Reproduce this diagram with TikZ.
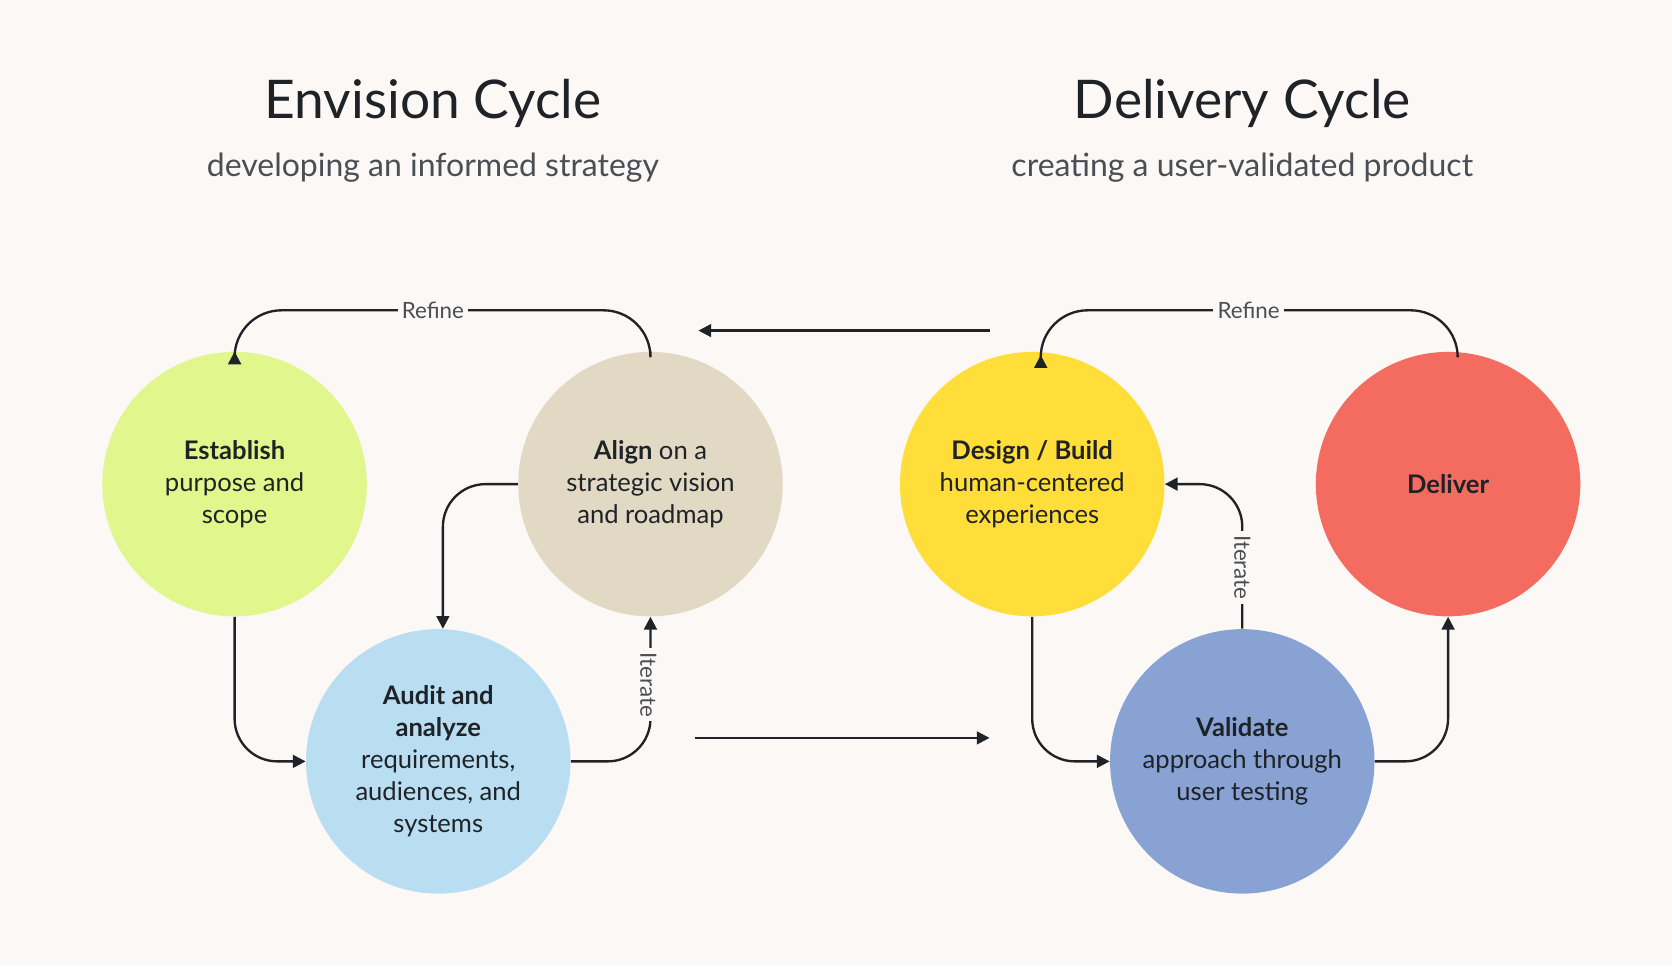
\documentclass[tikz,border=0pt]{standalone}
\usepackage{fontspec}
\setmainfont{Lato}
\usetikzlibrary{arrows.meta}
\definecolor{bg}{HTML}{FCF8F5}
\definecolor{ink}{HTML}{1F2328}
\definecolor{sub}{HTML}{4A4F55}
\definecolor{cA}{HTML}{E1F68C}
\definecolor{cB}{HTML}{E2D9C4}
\definecolor{cC}{HTML}{B9DDF1}
\definecolor{cD}{HTML}{FFDE3A}
\definecolor{cE}{HTML}{F46B5F}
\definecolor{cF}{HTML}{87A2D3}
\begin{document}
\begin{tikzpicture}[x=0.5pt,y=-0.5pt,
  circ/.style={circle,minimum size=124pt,inner sep=0pt,align=center,text=ink,font=\fontsize{12}{15}\selectfont},
  conn/.style={draw=ink,line width=1.1pt,rounded corners=20pt,-{Triangle[length=6pt,width=6pt]}},
  lab/.style={fill=bg,text=sub,font=\fontsize{10.5}{12}\selectfont,inner sep=2pt},
  title/.style={text=ink,font=\fontsize{25}{30}\selectfont},
  subt/.style={text=sub,font=\fontsize{15}{18}\selectfont}]
\fill[bg] (0,0) rectangle (1568,906);
\useasboundingbox (0,0) rectangle (1568,906);
\node[title] (t1) at (406,97) {Envision Cycle};
\node[subt] (s1) at (406,157) {developing an informed strategy};
\node[title] (t2) at (1165,97) {Delivery Cycle};
\node[subt] (s2) at (1165,157) {creating a user-validated product};
\node[circ,fill=cA] (est) at (220,454) {\textbf{Establish}\\purpose and\\scope};
\node[circ,fill=cB] (ali) at (610,454) {\textbf{Align} on a\\strategic vision\\and roadmap};
\node[circ,fill=cC] (aud) at (411,714) {\textbf{Audit and}\\\textbf{analyze}\\requirements,\\audiences, and\\systems};
\node[circ,fill=cD] (des) at (968,454) {\textbf{Design / Build}\\human-centered\\experiences};
\node[circ,fill=cE] (del) at (1358,454) {\textbf{Deliver}};
\node[circ,fill=cF] (val) at (1165,714) {\textbf{Validate}\\approach through\\user testing};
% envision
\draw[conn,rounded corners=22pt] (ali.north) -- (610,291) -- (220,291) -- (est.north);
\node[lab] (r1) at (406,291) {Refine};
\draw[conn] (est.south) |- (aud.west);
\draw[conn] (ali.west) -| (aud.88);
\draw[conn] (aud.east) -| (ali.south);
\node[lab,rotate=-90] (i1) at (608,642) {Iterate};
% middle
\coordinate (m1) at (928,310); \coordinate (m2) at (655,310);
\coordinate (m3) at (652,692); \coordinate (m4) at (928,692);
\draw[conn] (m1) -- (m2);
\draw[conn] (m3) -- (m4);
% delivery
\draw[conn,rounded corners=22pt] (1367,333) -- (1367,291) -- (976,291) -- (976,333);
\node[lab] (r2) at (1171,291) {Refine};
\draw[conn] (des.south) |- (val.west);
\draw[conn] (val.north) |- (des.east);
\node[lab,rotate=-90] (i2) at (1165,532) {Iterate};
\draw[conn] (val.east) -| (del.south);
\end{tikzpicture}
\end{document}
